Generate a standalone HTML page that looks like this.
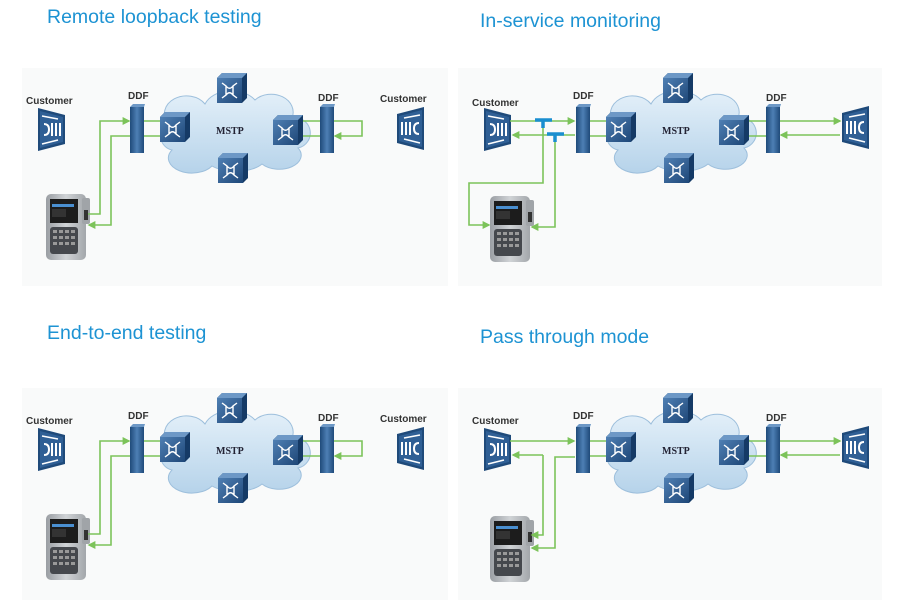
<!DOCTYPE html>
<html><head><meta charset="utf-8"><style>
html,body{margin:0;padding:0;background:#fff;}
svg{display:block;}
.t{font-family:"Liberation Sans",sans-serif;font-size:19.5px;fill:#1d93d3;}
.l{font-family:"Liberation Sans",sans-serif;font-size:10px;font-weight:bold;fill:#333;}
.m{font-family:"Liberation Serif",serif;font-size:10px;font-weight:bold;fill:#223;}
.g{stroke:#7cc35a;stroke-width:1.6;fill:none;}
</style></head><body>
<svg width="911" height="602" viewBox="0 0 911 602" xmlns="http://www.w3.org/2000/svg">
<defs>
<linearGradient id="cl" x1="0" y1="0" x2="0" y2="1"><stop offset="0" stop-color="#e4f0f9"/><stop offset="1" stop-color="#b6d3ea"/></linearGradient>
<linearGradient id="sw" x1="0" y1="0" x2="1" y2="1"><stop offset="0" stop-color="#4f7fb3"/><stop offset="1" stop-color="#1e4778"/></linearGradient>
<linearGradient id="dd" x1="0" y1="0" x2="1" y2="0"><stop offset="0" stop-color="#1f4a7a"/><stop offset="0.5" stop-color="#4d7fb4"/><stop offset="1" stop-color="#1f4a7a"/></linearGradient>
<linearGradient id="ts" x1="0" y1="0" x2="1" y2="0"><stop offset="0" stop-color="#9a9ea3"/><stop offset="0.5" stop-color="#d0d3d6"/><stop offset="1" stop-color="#a3a7ab"/></linearGradient>
<marker id="a" markerWidth="5" markerHeight="5" refX="4" refY="2.5" orient="auto"><path d="M0,0L5,2.5L0,5z" fill="#7cc35a"/></marker>
<g id="swt">
<polygon points="0,5 5,0 30,0 30,25 25,30 0,30" fill="#153a66"/>
<rect x="0" y="5" width="25" height="25" fill="url(#sw)"/>
<polygon points="0,5 5,0 30,0 25,5" fill="#6d98c6"/>
<path d="M5,10 L9,13 L9,22 L5,25 M20,10 L16,13 L16,22 L20,25 M9,13 Q12.5,17.5 16,13 M9,22 Q12.5,17.5 16,22" stroke="#fff" stroke-width="1.4" fill="none"/>
</g>
<g id="ddf">
<rect x="0" y="0" width="14" height="46" fill="url(#dd)"/>
<polygon points="0,0 3,-3 15,-3 14,0" fill="#6d98c6"/>
</g>
<g id="custL">
<polygon points="0,0 27,7 27,36 0,43" fill="#1f4a7a"/>
<polygon points="2,3 25,9 25,34 2,40" fill="#2f5f95"/>
<path d="M4,8 L20,11 M4,36 L20,32" stroke="#fff" stroke-width="1.6"/>
<path d="M6,16 Q11,16 11,21.5 Q11,27 6,27" stroke="#fff" stroke-width="2" fill="none"/>
<path d="M14,15 V28 M18,15 V28 M22,15 V28" stroke="#fff" stroke-width="2"/>
</g>
<g id="custR">
<polygon points="27,0 0,7 0,36 27,43" fill="#1f4a7a"/>
<polygon points="25,3 2,9 2,34 25,40" fill="#2f5f95"/>
<path d="M23,8 L7,11 M23,36 L7,32" stroke="#fff" stroke-width="1.6"/>
<path d="M5,15 V28 M9,15 V28 M13,15 V28" stroke="#fff" stroke-width="2"/>
<path d="M22,16 Q17,16 17,21.5 Q17,27 22,27" stroke="#fff" stroke-width="2" fill="none"/>
</g>
<g id="tester">
<rect x="0" y="0" width="40" height="66" rx="5" fill="url(#ts)"/>
<rect x="36" y="4" width="8" height="26" rx="2" fill="#a0a4a8"/>
<rect x="4" y="5" width="28" height="24" fill="#1c1c1c"/>
<rect x="6" y="10" width="22" height="3" fill="#4a8fd0"/>
<rect x="6" y="15" width="14" height="8" fill="#333"/>
<rect x="4" y="33" width="28" height="27" rx="3" fill="#45484d"/>
<g fill="#999"><rect x="7" y="36" width="4" height="3"/><rect x="13" y="36" width="4" height="3"/><rect x="19" y="36" width="4" height="3"/><rect x="25" y="36" width="4" height="3"/>
<rect x="7" y="42" width="4" height="3"/><rect x="13" y="42" width="4" height="3"/><rect x="19" y="42" width="4" height="3"/><rect x="25" y="42" width="4" height="3"/>
<rect x="7" y="48" width="4" height="3"/><rect x="13" y="48" width="4" height="3"/><rect x="19" y="48" width="4" height="3"/><rect x="25" y="48" width="4" height="3"/></g>
<rect x="38" y="16" width="4" height="10" fill="#333"/>
</g>
<g id="core">
<path d="M172,150 A14,14 0 0 1 168,124 A22,18 0 0 1 205,104 A28,20 0 0 1 255,100 A22,18 0 0 1 292,118 A14,14 0 0 1 298,148 A22,14 0 0 1 262,164 A30,14 0 0 1 212,166 A22,14 0 0 1 172,150 Z" fill="url(#cl)" stroke="#9dbfdc" stroke-width="1"/>
<use href="#swt" x="217" y="73"/>
<use href="#swt" x="160" y="112"/>
<use href="#swt" x="273" y="115"/>
<use href="#swt" x="218" y="153"/>
<use href="#ddf" x="130" y="107"/>
<use href="#ddf" x="320" y="107"/>
<use href="#custL" x="38" y="108"/>
<path class="g" d="M144,121 H160 M160,136 H144 M303,121 H320 M320,136 H303"/>
</g>
</defs>

<rect x="22" y="68" width="426" height="218" fill="#f9fafa"/>
<rect x="458" y="68" width="424" height="218" fill="#f9fafa"/>
<rect x="22" y="388" width="426" height="212" fill="#f9fafa"/>
<rect x="458" y="388" width="424" height="212" fill="#f9fafa"/>

<text class="t" x="47" y="23">Remote loopback testing</text>
<text class="t" x="480" y="27">In-service monitoring</text>
<text class="t" x="47" y="339">End-to-end testing</text>
<text class="t" x="480" y="343">Pass through mode</text>

<g>
<use href="#core"/>
<use href="#custR" x="397" y="107"/>
<use href="#tester" x="46" y="194"/>
<path class="g" d="M88,214 H100 V121 H129" marker-end="url(#a)"/>
<path class="g" d="M130,136 H111 V225 H89" marker-end="url(#a)"/>
<path class="g" d="M334,121 H362 V136 H335" marker-end="url(#a)"/>
<text class="l" x="26" y="104">Customer</text>
<text class="l" x="128" y="99">DDF</text>
<text class="l" x="318" y="101">DDF</text>
<text class="l" x="380" y="102">Customer</text>
<text class="m" x="216" y="134">MSTP</text>
</g>

<g transform="translate(0,320)">
<use href="#core"/>
<use href="#custR" x="397" y="107"/>
<use href="#tester" x="46" y="194"/>
<path class="g" d="M88,214 H100 V121 H129" marker-end="url(#a)"/>
<path class="g" d="M130,136 H111 V225 H89" marker-end="url(#a)"/>
<path class="g" d="M334,121 H362 V136 H335" marker-end="url(#a)"/>
<text class="l" x="26" y="104">Customer</text>
<text class="l" x="128" y="99">DDF</text>
<text class="l" x="318" y="101">DDF</text>
<text class="l" x="380" y="102">Customer</text>
<text class="m" x="216" y="134">MSTP</text>
</g>

<g transform="translate(446,0)">
<use href="#core"/>
<use href="#custR" x="396" y="106"/>
<use href="#tester" x="44" y="196"/>
<path class="g" d="M64,121 H128" marker-end="url(#a)"/>
<path class="g" d="M129,135 H67" marker-end="url(#a)"/>
<path class="g" d="M334,121 H394" marker-end="url(#a)"/>
<path class="g" d="M394,135 H335" marker-end="url(#a)"/>
<path class="g" d="M97,123 V183 H23 V225 H43" marker-end="url(#a)"/>
<path class="g" d="M109,138 V227 H86" marker-end="url(#a)"/>
<path d="M89,120 H106 M97,120 V128 M101,134 H118 M109,134 V142" stroke="#1a8ed0" stroke-width="3.5" fill="none"/>
<text class="l" x="26" y="106">Customer</text>
<text class="l" x="127" y="99">DDF</text>
<text class="l" x="320" y="101">DDF</text>
<text class="m" x="216" y="134">MSTP</text>
</g>

<g transform="translate(446,320)">
<use href="#core"/>
<use href="#custR" x="396" y="106"/>
<use href="#tester" x="44" y="196"/>
<path class="g" d="M64,121 H128" marker-end="url(#a)"/>
<path class="g" d="M97,135 H67" marker-end="url(#a)"/>
<path class="g" d="M97,135 V215 H86" marker-end="url(#a)"/>
<path class="g" d="M129,137 H109 V228 H86" marker-end="url(#a)"/>
<path class="g" d="M334,121 H394" marker-end="url(#a)"/>
<path class="g" d="M394,135 H335" marker-end="url(#a)"/>
<text class="l" x="26" y="104">Customer</text>
<text class="l" x="127" y="99">DDF</text>
<text class="l" x="320" y="101">DDF</text>
<text class="m" x="216" y="134">MSTP</text>
</g>
</svg>
</body></html>
